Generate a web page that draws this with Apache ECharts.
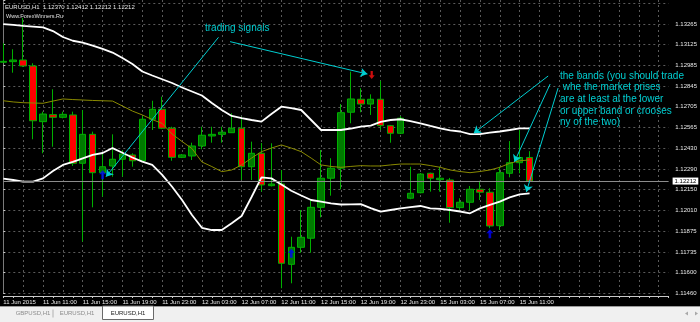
<!DOCTYPE html>
<html><head><meta charset="utf-8">
<script src="https://cdn.jsdelivr.net/npm/echarts@6/dist/echarts.min.js"></script>
<style>html,body{margin:0;padding:0;background:#000;}#c{width:700px;height:322px;}</style>
</head><body><div id="c"></div>
<script>
// ---- categories (hourly bars, plus empty future slots of the chart shift) ----
const categories = [
 '11 Jun 07:00','11 Jun 08:00','11 Jun 09:00','11 Jun 10:00','11 Jun 11:00','11 Jun 12:00','11 Jun 13:00','11 Jun 14:00',
 '11 Jun 15:00','11 Jun 16:00','11 Jun 17:00','11 Jun 18:00','11 Jun 19:00','11 Jun 20:00','11 Jun 21:00','11 Jun 22:00','11 Jun 23:00',
 '12 Jun 00:00','12 Jun 01:00','12 Jun 02:00','12 Jun 03:00','12 Jun 04:00','12 Jun 05:00','12 Jun 06:00','12 Jun 07:00',
 '12 Jun 08:00','12 Jun 09:00','12 Jun 10:00','12 Jun 11:00','12 Jun 12:00','12 Jun 13:00','12 Jun 14:00','12 Jun 15:00',
 '12 Jun 16:00','12 Jun 17:00','12 Jun 18:00','12 Jun 19:00','12 Jun 20:00','12 Jun 21:00','12 Jun 22:00','12 Jun 23:00',
 '15 Jun 00:00','15 Jun 01:00','15 Jun 02:00','15 Jun 03:00','15 Jun 04:00','15 Jun 05:00','15 Jun 06:00','15 Jun 07:00',
 '15 Jun 08:00','15 Jun 09:00','15 Jun 10:00','15 Jun 11:00','15 Jun 12:00',
 '15 Jun 13:00','15 Jun 14:00','15 Jun 15:00','15 Jun 16:00','15 Jun 17:00','15 Jun 18:00','15 Jun 19:00','15 Jun 20:00',
 '15 Jun 21:00','15 Jun 22:00','15 Jun 23:00','16 Jun 00:00','16 Jun 01:00','16 Jun 02:00'
];
const xTickLabels = ['11 Jun 2015','11 Jun 11:00','11 Jun 15:00','11 Jun 19:00','11 Jun 23:00','12 Jun 03:00','12 Jun 07:00',
 '12 Jun 11:00','12 Jun 15:00','12 Jun 19:00','12 Jun 23:00','15 Jun 03:00','15 Jun 07:00','15 Jun 11:00'];
const yTickLabels = ['1.11460','1.11600','1.11735','1.11875','1.12010','1.12150','1.12290','1.12430','1.12565','1.12705',
 '1.12845','1.12985','1.13125','1.13265'];

// ---- OHLC [open, high, low, close] ----
const ohlc = [
 [1.13008,1.13135,1.13006,1.13014],[1.13012,1.13095,1.12938,1.13023],[1.13023,1.13305,1.12976,1.12983],
 [1.12983,1.13001,1.12492,1.12616],[1.12610,1.12677,1.12398,1.12661],[1.12657,1.12827,1.12442,1.12639],
 [1.12639,1.12677,1.12632,1.12659],[1.12655,1.12677,1.12313,1.12331],[1.12331,1.12688,1.11806,1.12525],
 [1.12525,1.12543,1.12036,1.12268],[1.12268,1.12398,1.12107,1.12308],[1.12313,1.12525,1.12241,1.12358],
 [1.12358,1.12420,1.12241,1.12393],[1.12387,1.12398,1.12308,1.12348],[1.12348,1.12648,1.12346,1.12626],
 [1.12626,1.12750,1.12554,1.12693],[1.12693,1.12777,1.12560,1.12566],[1.12566,1.12576,1.12348,1.12371],
 [1.12371,1.12393,1.12366,1.12387],[1.12380,1.12469,1.12353,1.12447],[1.12447,1.12576,1.12425,1.12519],
 [1.12514,1.12576,1.12469,1.12525],[1.12525,1.12576,1.12469,1.12539],[1.12536,1.12666,1.12534,1.12566],
 [1.12566,1.12643,1.12219,1.12308],[1.12308,1.12476,1.12219,1.12398],[1.12398,1.12467,1.12141,1.12186],
 [1.12181,1.12465,1.12176,1.12192],[1.12192,1.12286,1.11494,1.11661],[1.11654,1.11839,1.11527,1.11768],
 [1.11768,1.12018,1.11732,1.11835],[1.11829,1.12085,1.11732,1.12036],[1.12036,1.12420,1.11969,1.12231],
 [1.12231,1.12365,1.12114,1.12298],[1.12298,1.12728,1.12157,1.12670],[1.12673,1.12945,1.12599,1.12762],
 [1.12760,1.12834,1.12673,1.12728],[1.12728,1.12793,1.12655,1.12760],[1.12760,1.12884,1.12554,1.12583],
 [1.12583,1.12588,1.12469,1.12532],[1.12532,1.12648,1.12527,1.12633],[1.12097,1.12308,1.12090,1.12130],
 [1.12134,1.12266,1.12130,1.12259],[1.12264,1.12268,1.12141,1.12231],[1.12221,1.12308,1.12141,1.12231],
 [1.12219,1.12233,1.11933,1.12034],[1.12034,1.12097,1.12018,1.12070],[1.12070,1.12179,1.12018,1.12157],
 [1.12157,1.12214,1.12085,1.12137],[1.12137,1.12164,1.11896,1.11911],[1.11913,1.12308,1.11884,1.12268],
 [1.12264,1.12480,1.12237,1.12335],[1.12335,1.12554,1.12264,1.12370],[1.12370,1.12412,1.12212,1.12212]
];

// ---- Bollinger bands ----
const upperBand = [1.13264,1.13258,1.13251,1.13247,1.13241,1.13217,1.13177,1.13152,1.13140,1.13120,
 1.13097,1.13073,1.13036,1.12996,1.12946,1.12919,1.12894,1.12869,1.12839,1.12812,
 1.12785,1.12735,1.12688,1.12648,1.12634,1.12621,1.12610,1.12661,1.12710,1.12701,
 1.12688,1.12621,1.12554,1.12554,1.12554,1.12564,1.12576,1.12584,1.12608,1.12621,
 1.12626,1.12614,1.12599,1.12581,1.12565,1.12551,1.12544,1.12527,1.12527,1.12536,
 1.12544,1.12554,1.12565,1.12565];
const middleBand = [1.12750,1.12742,1.12737,1.12735,1.12733,1.12748,1.12762,1.12758,1.12755,1.12752,
 1.12750,1.12748,1.12715,1.12681,1.12655,1.12624,1.12598,1.12527,1.12477,1.12430,
 1.12340,1.12309,1.12275,1.12286,1.12320,1.12366,1.12409,1.12433,1.12454,1.12433,
 1.12409,1.12366,1.12320,1.12310,1.12304,1.12310,1.12315,1.12313,1.12313,1.12320,
 1.12326,1.12326,1.12326,1.12316,1.12304,1.12286,1.12276,1.12268,1.12276,1.12286,
 1.12304,1.12331,1.12348,1.12353];
const lowerBand = [1.12229,1.12219,1.12208,1.12208,1.12230,1.12279,1.12320,1.12340,1.12364,1.12387,
 1.12400,1.12433,1.12402,1.12370,1.12342,1.12320,1.12253,1.12174,1.12085,1.11985,
 1.11899,1.11884,1.11884,1.11929,1.11978,1.12105,1.12237,1.12230,1.12189,1.12147,
 1.12115,1.12085,1.12074,1.12062,1.12055,1.12056,1.12058,1.12031,1.12007,1.12018,
 1.12029,1.12038,1.12045,1.12029,1.12025,1.12018,1.12008,1.11996,1.12029,1.12052,
 1.12074,1.12103,1.12123,1.12130];

// ---- signals [barIndex, price] ----
const buySignals = [[10,1.12255],[29,1.11728],[49,1.11859]];
const sellSignals = [[37.1,1.12923]];

// ---- annotation arrows [[fromBar, fromPrice],[toBar, toPrice]] ----
const signalArrows = [[[21.67,1.13175],[10.34,1.12241]],[[22.84,1.13146],[36.67,1.12929]]];
const bandArrows = [[[54.87,1.12916],[47.37,1.12532]],[[55.07,1.12862],[51.47,1.12340]],[[55.87,1.12835],[52.67,1.12139]]];

const headerText = 'EURUSD,H1  1.12370 1.12412 1.12212 1.12212';
const siteText = 'Www.ForexWinners.Ru';
const signalsNote = 'trading signals';
const bandsNote = ['the bands (you should trade',' whe the market prises','are at least al the lower','or upper band or crooses','ny of the two)'];
const tabs = ['GBPUSD,H1','EURUSD,H1','EURUSD,H1'];

const lastClose = ohlc[ohlc.length-1][3];
const Y_MIN = 1.11460, Y_STEP = 1.11460/803, Y_MAX = 1.13425;
const FONT = '"Liberation Sans", Arial, sans-serif';
const AX = '#c8c8c8', GRIDC = '#5a5a5a', CYAN = '#00CED1';
const UP = 'path://M4,0L8,4.5L5.5,4.5L5.5,10L2.5,10L2.5,4.5L0,4.5Z';
const DOWN = 'path://M2.5,0L5.5,0L5.5,5.5L8,5.5L4,10L0,5.5L2.5,5.5Z';

const chart = echarts.init(document.getElementById('c'));
const arrowLines = signalArrows.concat(bandArrows).map(a => [{coord:a[0]},{coord:a[1]}]);

const gfx = [
  {type:'text', x:5, y:7, style:{text:headerText, fill:'#e8e8e8', font:'6px '+FONT, verticalAlign:'middle', textVerticalAlign:'middle'}},
  {type:'text', x:6, y:16, style:{text:siteText, fill:'#e0e0e0', font:'5.5px '+FONT, verticalAlign:'middle', textVerticalAlign:'middle'}},
  {type:'text', x:205, y:28, style:{text:signalsNote, fill:CYAN, font:'10px '+FONT, verticalAlign:'middle', textVerticalAlign:'middle'}},
  {type:'rect', shape:{x:0, y:306.5, width:700, height:15.5}, style:{fill:'#f0f0f0'}},
  {type:'line', shape:{x1:0, y1:306.5, x2:700, y2:306.5}, style:{stroke:'#9a9a9a', lineWidth:1}},
  {type:'rect', shape:{x:102.5, y:306, width:51, height:13.5}, style:{fill:'#ffffff', stroke:'#6a6a6a', lineWidth:1}},
  {type:'text', x:33, y:313.5, style:{text:tabs[0], fill:'#8c8c8c', font:'6px '+FONT, align:'center', textAlign:'center', verticalAlign:'middle', textVerticalAlign:'middle'}},
  {type:'line', shape:{x1:53, y1:309.5, x2:53, y2:317.5}, style:{stroke:'#b0b0b0', lineWidth:1}},
  {type:'text', x:77, y:313.5, style:{text:tabs[1], fill:'#8c8c8c', font:'6px '+FONT, align:'center', textAlign:'center', verticalAlign:'middle', textVerticalAlign:'middle'}},
  {type:'text', x:128, y:313.5, style:{text:tabs[2], fill:'#1a1a1a', font:'6px '+FONT, align:'center', textAlign:'center', verticalAlign:'middle', textVerticalAlign:'middle'}},
  {type:'polygon', shape:{points:[[685,313.5],[688,311.5],[688,315.5]]}, style:{fill:'#a8a8a8'}},
  {type:'polygon', shape:{points:[[698,313.5],[695,311.5],[695,315.5]]}, style:{fill:'#a8a8a8'}}
];
const noteY = [76, 87.3, 99.3, 111, 122.7];
bandsNote.forEach((t,i) => gfx.push({type:'text', x:560, y:noteY[i], z:100,
  style:{text:t, fill:CYAN, font:'10px '+FONT, verticalAlign:'middle', textVerticalAlign:'middle'}}));

chart.setOption({
  backgroundColor:'#000000',
  animation:false,
  grid:{left:3.3, right:26.7, top:0, bottom:28.7},
  xAxis:[
    {type:'category', data:categories, boundaryGap:false, offset:2.7,
     axisLine:{show:true, lineStyle:{color:AX}},
     axisTick:{show:true, interval:0, length:2, lineStyle:{color:AX}},
     axisLabel:{interval:(i)=> i%4===0 && i<54, formatter:(v,i)=> xTickLabels[i/4] || '', align:'left',
       color:'#e8e8e8', fontSize:6, fontFamily:FONT, margin:3},
     splitLine:{show:true, interval:(i)=> i%2===0, lineStyle:{color:GRIDC, type:[2,3], width:1}}},
    {type:'category', data:categories, boundaryGap:false, offset:2.7,
     axisLine:{show:false}, axisTick:{show:true, interval:(i)=> i%4===0 && i<54, length:4, lineStyle:{color:AX}},
     axisLabel:{show:false}, splitLine:{show:false}},
    {type:'value', min:0, max:categories.length-1, show:false}
  ],
  yAxis:[
    {type:'value', position:'right', min:Y_MIN, max:Y_MAX, interval:Y_STEP, offset:2.7,
     axisLine:{show:true, lineStyle:{color:AX}},
     axisTick:{show:true, length:2, lineStyle:{color:AX}},
     axisLabel:{formatter:(v,i)=> yTickLabels[i] || '', color:'#e8e8e8', fontSize:6, fontFamily:FONT, margin:4},
     splitLine:{show:true, showMaxLine:false, lineStyle:{color:GRIDC, type:[2,3], width:1}}},
    {type:'value', position:'left', min:Y_MIN, max:Y_MAX,
     axisLine:{show:true, lineStyle:{color:'#7a7a7a'}}, axisTick:{show:false}, axisLabel:{show:false}, splitLine:{show:false}}
  ],
  graphic:gfx,
  series:[
    {type:'candlestick', name:'EURUSD,H1', xAxisIndex:0, yAxisIndex:0, barWidth:7, z:2,
     data: ohlc.map(d => [d[0], d[3], d[2], d[1]]),
     itemStyle:{color:'#007a00', color0:'#ff0000', borderColor:'#00b000', borderColor0:'#00b000', borderWidth:1}},
    {type:'line', name:'Upper', data:upperBand, xAxisIndex:0, yAxisIndex:0, symbol:'none', z:3,
     lineStyle:{color:'#ffffff', width:1.8},
     markLine:{silent:true, symbol:'none', animation:false, precision:5,
       lineStyle:{color:'#8c8c8c', type:'solid', width:1},
       label:{show:true, position:'end', distance:4, formatter:()=> lastClose.toFixed(5), color:'#000',
         backgroundColor:'#ffffff', padding:[1,2,0,2], fontSize:6, fontFamily:FONT},
       emphasis:{disabled:true},
       data:[{yAxis:lastClose}]}},
    {type:'line', name:'Middle', data:middleBand, xAxisIndex:0, yAxisIndex:0, symbol:'none', z:3,
     lineStyle:{color:'#8a8a00', width:1}},
    {type:'line', name:'Lower', data:lowerBand, xAxisIndex:0, yAxisIndex:0, symbol:'none', z:3,
     lineStyle:{color:'#ffffff', width:1.8}},
    {type:'scatter', name:'Buy', data:buySignals, xAxisIndex:2, yAxisIndex:0, symbol:UP, symbolSize:[7,9], z:5,
     itemStyle:{color:'#0000ff'},
     markLine:{silent:true, symbol:['none','arrow'], symbolSize:7, animation:false, precision:5,
       lineStyle:{color:CYAN, type:'solid', width:1}, label:{show:false}, data:arrowLines}},
    {type:'scatter', name:'Sell', data:sellSignals, xAxisIndex:2, yAxisIndex:0, symbol:DOWN, symbolSize:[6,8], z:5,
     itemStyle:{color:'#ff1010'}}
  ]
});
</script></body></html>
